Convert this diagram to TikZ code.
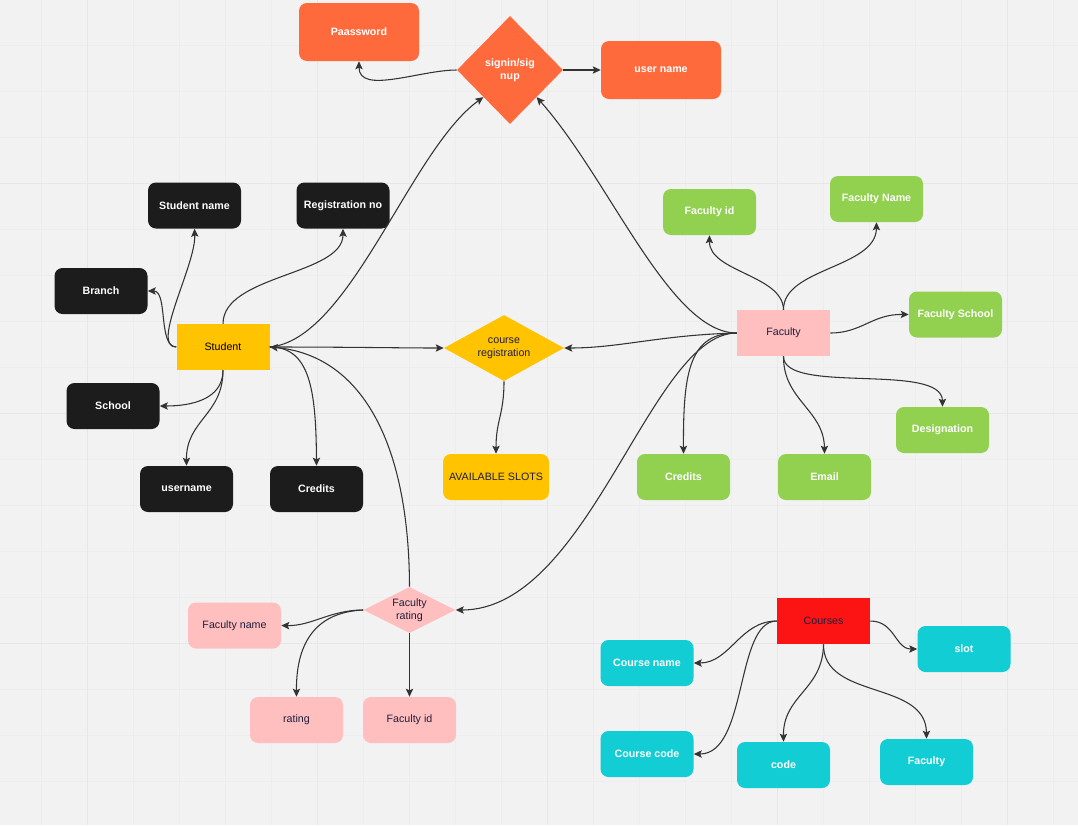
\documentclass[tikz,border=0pt]{standalone}
\usepackage{fontspec}
\setmainfont{Liberation Sans}
\usetikzlibrary{shapes.geometric,arrows.meta,calc}
\definecolor{bg}{HTML}{F2F2F2}
\definecolor{gminor}{HTML}{EDEDED}
\definecolor{gmajor}{HTML}{E7E7E7}
\definecolor{cor}{HTML}{FF6A3D}
\definecolor{cbk}{HTML}{1C1C1C}
\definecolor{cye}{HTML}{FFC300}
\definecolor{cgr}{HTML}{92D050}
\definecolor{cpk}{HTML}{FFBFBF}
\definecolor{crd}{HTML}{FC1414}
\definecolor{ccy}{HTML}{13CDD4}
\definecolor{dk}{HTML}{1E1E3C}
\definecolor{lc}{HTML}{333333}
\tikzset{
  attr/.style={rounded corners=6pt, minimum width=69.75pt, minimum height=34.5pt, inner sep=2pt,
    font=\fontsize{8}{9.5}\selectfont\bfseries, text=white, align=center},
  attrd/.style={attr, font=\fontsize{8}{9.5}\selectfont, text=dk},
  ent/.style={minimum width=69.75pt, minimum height=34.5pt, inner sep=2pt,
    font=\fontsize{8}{9.5}\selectfont, text=dk, align=center},
  rel/.style={diamond, inner sep=0pt, align=center, font=\fontsize{8}{9.5}\selectfont},
  conn/.style={draw=lc, line width=0.8pt, -{Stealth[length=6pt,width=5.5pt,inset=1.2pt]}},
}
\begin{document}
\begin{tikzpicture}[x=0.75pt,y=-0.75pt]
\fill[bg] (0,0) rectangle (1078,825);
\useasboundingbox (0,0) rectangle (1078,825);
\foreach \x in {41,87,...,1078} \draw[gminor,line width=0.75pt] (\x,0) -- (\x,825);
\foreach \y in {45,91,...,825} \draw[gminor,line width=0.75pt] (0,\y) -- (1078,\y);
\foreach \x in {87,317,547,777,1007} \draw[gmajor,line width=0.75pt] (\x,0) -- (\x,825);
\foreach \y in {183,413,643} \draw[gmajor,line width=0.75pt] (0,\y) -- (1078,\y);

% top
\node[attr, fill=cor, minimum width=90pt, minimum height=43.5pt] (pass) at (359,32) {Paassword};
\node[attr, fill=cor, minimum width=90pt, minimum height=43.5pt] (user) at (661,70) {user name};
\node[rel, fill=cor, text=white, font=\fontsize{8}{9.5}\selectfont\bfseries, aspect=1, minimum width=79.5pt, minimum height=81pt] (sign) at (510,70) {signin/sig\\nup};

% student
\node[ent, fill=cye, text=black] (stu) at (223,347) {Student};
\node[attr, fill=cbk] (sname) at (194.5,205.5) {Student name};
\node[attr, fill=cbk] (reg) at (343,205.5) {Registration no};
\node[attr, fill=cbk] (branch) at (101,291) {Branch};
\node[attr, fill=cbk] (school) at (113,406) {School};
\node[attr, fill=cbk] (uname) at (186.5,489) {username};
\node[attr, fill=cbk] (scred) at (316.5,489) {Credits};

% course registration
\node[rel, fill=cye, text=dk, aspect=1.82, minimum width=90pt, minimum height=49.5pt] (creg) at (504,348) {course\\registration};
\node[attrd, fill=cye, minimum width=79.5pt] (avail) at (496,477) {AVAILABLE SLOTS};

% faculty
\node[ent, fill=cpk] (fac) at (783.5,333) {Faculty};
\node[attr, fill=cgr] (fid) at (709.5,212) {Faculty id};
\node[attr, fill=cgr] (fname) at (876.5,199) {Faculty Name};
\node[attr, fill=cgr] (fschool) at (955.5,314.5) {Faculty School};
\node[attr, fill=cgr] (desig) at (942.5,430) {Designation};
\node[attr, fill=cgr] (fcred) at (683.5,477) {Credits};
\node[attr, fill=cgr] (email) at (824.5,477) {Email};

% faculty rating
\node[rel, fill=cpk, text=dk, aspect=2, minimum width=69pt, minimum height=34.5pt] (rat) at (409.5,610) {Faculty\\rating};
\node[attrd, fill=cpk] (rfn) at (234.5,625.5) {Faculty name};
\node[attrd, fill=cpk] (rrat) at (296.5,720) {rating};
\node[attrd, fill=cpk] (rfid) at (409.5,720) {Faculty id};

% courses
\node[ent, fill=crd] (crs) at (823.5,621) {Courses};
\node[attr, fill=ccy] (slot) at (964,649) {slot};
\node[attr, fill=ccy] (cname) at (647,663) {Course name};
\node[attr, fill=ccy] (ccode) at (647,754) {Course code};
\node[attr, fill=ccy] (code) at (783.5,765) {code};
\node[attr, fill=ccy] (cfac) at (926.5,762) {Faculty};

\coordinate (signSW) at ($(sign.west)!0.5!(sign.south)$);
\coordinate (signSE) at ($(sign.east)!0.5!(sign.south)$);

% connectors
\draw[conn] (sign.west) .. controls (420,70) and (359,95) .. (pass.south);
\draw[conn] (sign.east) -- (user.west);
\draw[conn] (stu.east) .. controls (350,340) and (410,150) .. (signSW);
\draw[conn] (fac.west) .. controls (670,333) and (610,180) .. (signSE);

\draw[conn] (stu.west) .. controls (150,347) and (196,265) .. (sname.south);
\draw[conn] (stu.west) .. controls (158,347) and (168,291) .. (branch.east);
\draw[conn] (stu.north) .. controls (223,275) and (343,275) .. (reg.south);
\draw[conn] (stu.south) .. controls (223,400) and (190,406) .. (school.east);
\draw[conn] (stu.south) .. controls (223,415) and (186,420) .. (uname.north);
\draw[conn] (stu.east) .. controls (310,347) and (316,390) .. (scred.north);
\draw[conn] (stu.east) .. controls (350,347) and (400,348) .. (creg.west);
\draw[conn] (rat.north) .. controls (409,440) and (360,355) .. (stu.east);

\draw[conn] (fac.west) .. controls (660,335) and (620,348) .. (creg.east);
\draw[conn] (creg.south) .. controls (504,415) and (496,420) .. (avail.north);

\draw[conn] (fac.west) .. controls (650,333) and (590,610) .. (rat.east);
\draw[conn] (fac.west) .. controls (690,333) and (683,370) .. (fcred.north);
\draw[conn] (fac.north) .. controls (783,275) and (709,272) .. (fid.south);
\draw[conn] (fac.north) .. controls (783,268) and (876,268) .. (fname.south);
\draw[conn] (fac.east) .. controls (862,333) and (872,314) .. (fschool.west);
\draw[conn] (fac.south) .. controls (783,395) and (942,362) .. (desig.north);
\draw[conn] (fac.south) .. controls (783,400) and (824,410) .. (email.north);

\draw[conn] (rat.west) .. controls (330,610) and (312,626) .. (rfn.east);
\draw[conn] (rat.west) .. controls (318,612) and (296,640) .. (rrat.north);
\draw[conn] (rat.south) -- (rfid.north);

\draw[conn] (crs.west) .. controls (740,621) and (730,663) .. (cname.east);
\draw[conn] (crs.west) .. controls (735,621) and (748,754) .. (ccode.east);
\draw[conn] (crs.east) .. controls (895,621) and (895,649) .. (slot.west);
\draw[conn] (crs.south) .. controls (823,690) and (783,695) .. (code.north);
\draw[conn] (crs.south) .. controls (823,700) and (926,680) .. (cfac.north);
\end{tikzpicture}
\end{document}
